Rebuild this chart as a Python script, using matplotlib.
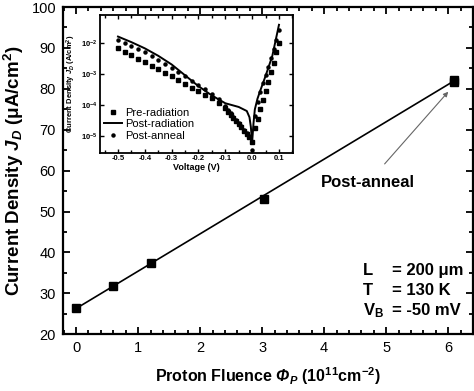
import matplotlib
matplotlib.use("Agg")
import matplotlib.pyplot as plt
import numpy as np
from matplotlib.ticker import MultipleLocator, FixedLocator, NullLocator

plt.rcParams['font.family'] = ['Liberation Sans', 'DejaVu Sans']
plt.rcParams['mathtext.fontset'] = 'custom'
plt.rcParams['mathtext.rm'] = 'Liberation Sans:bold'
plt.rcParams['mathtext.it'] = 'Liberation Sans:bold:italic'
plt.rcParams['mathtext.bf'] = 'Liberation Sans:bold'
plt.rcParams['mathtext.sf'] = 'Liberation Sans:bold:italic'

# Main data
fluence = [0.0, 0.6, 1.2, 3.03, 6.1, 6.1]
current = [26.5, 31.7, 37.5, 53.0, 82.2, 81.6]
fit_x = [0.0, 6.1]
fit_y = [26.3, 82.0]

# Inset data (log10 of current density, A/cm^2)
pre_v = [-0.500, -0.475, -0.450, -0.425, -0.400, -0.375, -0.350, -0.325, -0.300,
         -0.275, -0.250, -0.225, -0.200, -0.175, -0.150, -0.125, -0.100, -0.090,
         -0.080, -0.070, -0.060, -0.050, -0.040, -0.030, -0.020, -0.010, 0.000,
         0.010, 0.020, 0.030, 0.040, 0.050, 0.060, 0.070, 0.080, 0.090, 0.100]
pre_logj = [-2.18, -2.30, -2.40, -2.51, -2.61, -2.74, -2.84, -2.97, -3.08,
            -3.21, -3.32, -3.45, -3.56, -3.68, -3.79, -3.93, -4.10, -4.22,
            -4.32, -4.42, -4.52, -4.62, -4.72, -4.83, -4.94, -5.05, -5.20,
            -4.75, -4.45, -4.15, -3.85, -3.55, -3.25, -2.95, -2.65, -2.30, -2.00]

post_v = [-0.50, -0.45, -0.40, -0.35, -0.30, -0.25, -0.20, -0.15, -0.10, -0.05,
          -0.02, -0.01, -0.005, 0.0, 0.005, 0.01, 0.02, 0.03, 0.05, 0.075, 0.10]
post_logj = [-1.80, -1.98, -2.18, -2.42, -2.70, -3.05, -3.40, -3.70, -3.95, -4.07,
             -4.20, -4.40, -4.70, -5.20, -4.60, -4.15, -3.80, -3.55, -3.07, -2.43, -1.42]

ann_v = [-0.500, -0.475, -0.450, -0.425, -0.400, -0.375, -0.350, -0.325, -0.300,
         -0.275, -0.250, -0.225, -0.200, -0.175, -0.150, -0.125, -0.100, -0.090,
         -0.080, -0.070, -0.060, -0.050, -0.040, -0.030, -0.020, -0.010, 0.000,
         0.010, 0.020, 0.030, 0.040, 0.050, 0.060, 0.070, 0.080, 0.090, 0.100]
ann_logj = [-1.90, -2.00, -2.10, -2.20, -2.30, -2.42, -2.55, -2.68, -2.82,
            -2.95, -3.08, -3.22, -3.36, -3.50, -3.65, -3.82, -4.05, -4.18,
            -4.28, -4.38, -4.48, -4.58, -4.68, -4.80, -4.92, -5.00, -5.45,
            -4.35, -3.90, -3.60, -3.30, -3.05, -2.78, -2.50, -2.20, -1.90, -1.60]

fig = plt.figure(figsize=(4.74, 3.91), dpi=100)
ax = fig.add_axes([0.133, 0.145, 0.865, 0.837])

ax.plot(fit_x, fit_y, color='black', lw=1.2, zorder=2)
ax.plot(fluence, current, 's', color='black', ms=6, zorder=3)

ax.set_xlim(-0.21, 6.4)
ax.set_ylim(20, 100)
ax.xaxis.set_major_locator(MultipleLocator(1))
ax.xaxis.set_minor_locator(MultipleLocator(0.2))
ax.yaxis.set_major_locator(MultipleLocator(10))
ax.yaxis.set_minor_locator(MultipleLocator(5))
ax.tick_params(which='both', direction='in', top=True, right=True, width=1.3)
ax.tick_params(which='major', length=5, labelsize=10.5, pad=5)
ax.tick_params(which='minor', length=3)
for s in ax.spines.values():
    s.set_linewidth(1.6)

ax.set_xlabel('Proton Fluence $\\mathsf{Φ_P}$ (10$^{11}$cm$^{-2}$)',
              fontsize=11.5, fontweight='bold', labelpad=7)
ax.set_ylabel('Current Density $J_D$ (μA/cm$^2$)',
              fontsize=13.5, fontweight='bold', labelpad=4)

ax.annotate('Post-anneal', xy=(6.0, 79.3), xytext=(4.71, 57.1),
            fontsize=12, fontweight='bold', ha='center', va='center',
            arrowprops=dict(arrowstyle='-|>', color='#666666', lw=0.8,
                            shrinkA=8, shrinkB=0, mutation_scale=7))

ax.text(4.63, 35.7, 'L', fontsize=12, fontweight='bold', va='center')
ax.text(4.63, 30.8, 'T', fontsize=12, fontweight='bold', va='center')
ax.text(4.63, 25.9, r'V$_\mathbf{B}$', fontsize=12, fontweight='bold', va='center')
ax.text(5.1, 35.7, '= 200 μm', fontsize=12, fontweight='bold', va='center')
ax.text(5.1, 30.8, '= 130 K', fontsize=12, fontweight='bold', va='center')
ax.text(5.1, 25.9, '= -50 mV', fontsize=12, fontweight='bold', va='center')

# Inset
ins = fig.add_axes([0.211, 0.609, 0.407, 0.353])
ins.plot(pre_v, [10 ** v for v in pre_logj], 's', color='black', ms=3.2,
         label='Pre-radiation')
ins.plot(post_v, [10 ** v for v in post_logj], '-', color='black', lw=1.4,
         label='Post-radiation')
ins.plot(ann_v, [10 ** v for v in ann_logj], 'o', color='black', ms=2.2,
         label='Post-anneal')
ins.set_yscale('log')
ins.set_xlim(-0.567, 0.152)
ins.set_ylim(10 ** -5.55, 10 ** -1.1)
ins.xaxis.set_minor_locator(MultipleLocator(0.05))
ins.yaxis.set_major_locator(FixedLocator([1e-5, 1e-4, 1e-3, 1e-2]))
ins.yaxis.set_minor_locator(NullLocator())
ins.set_xticks([-0.5, -0.4, -0.3, -0.2, -0.1, 0.0, 0.1])
ins.set_xticklabels(['-0.5', '-0.4', '-0.3', '-0.2', '-0.1', '0.0', '0.1'])
ins.set_yticklabels(['10$^{-5}$', '10$^{-4}$', '10$^{-3}$', '10$^{-2}$'])
ins.tick_params(which='both', direction='in', top=True, right=True, width=1.0)
ins.tick_params(which='major', length=3, labelsize=5.5, pad=1.5)
ins.tick_params(which='minor', length=2)
for lab in ins.get_xticklabels() + ins.get_yticklabels():
    lab.set_fontweight('bold')
for s in ins.spines.values():
    s.set_linewidth(1.3)
ins.set_xlabel('Voltage (V)', fontsize=6.5, fontweight='bold', labelpad=1)
ins.set_ylabel('Current Density $J_D$ (A/cm$^2$)', fontsize=5.5,
               fontweight='bold', labelpad=2.5)
ins.legend(loc='lower left', frameon=False, fontsize=8, handlelength=1.6,
           handletextpad=0.3, borderpad=0.2, labelspacing=0.15,
           bbox_to_anchor=(-0.02, 0.03))

fig.savefig('out.png', dpi=100)
